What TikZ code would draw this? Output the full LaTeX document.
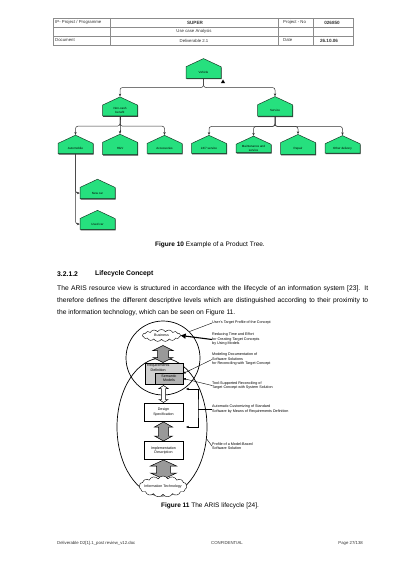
\documentclass[tikz,border=0pt]{standalone}
\usepackage{fontspec}
\setmainfont{Liberation Sans}
\usepackage{xcolor}
\usetikzlibrary{shapes.geometric, shapes.symbols, arrows.meta, positioning, shadows}
\definecolor{prodgreen}{RGB}{38,224,126}
\definecolor{prodedge}{RGB}{25,60,40}

% vertical block double arrow: centre x, centre y, length, shaft half, head half, head length, fill
\newcommand\lcdblarrow[7]{%
  \draw[fill=#7, line width=0.5pt]
    ({#1-#4},{#2-#3/2+#6}) -- ({#1-#5},{#2-#3/2+#6}) -- (#1,{#2-#3/2})
    -- ({#1+#5},{#2-#3/2+#6}) -- ({#1+#4},{#2-#3/2+#6}) -- ({#1+#4},{#2+#3/2-#6})
    -- ({#1+#5},{#2+#3/2-#6}) -- (#1,{#2+#3/2}) -- ({#1-#5},{#2+#3/2-#6})
    -- ({#1-#4},{#2+#3/2-#6}) -- cycle;}

\begin{document}
\begin{tikzpicture}[x=1pt, y=-1pt,
    prod/.style={
      signal, signal to=north, signal pointer angle=130,
      draw=prodedge, fill=prodgreen, line width=0.5pt,
      minimum width=35pt, minimum height=14pt, inner sep=0.5pt,
      font=\fontsize{3}{3.5}\selectfont, align=center,
      drop shadow={shadow xshift=0.6pt, shadow yshift=-0.9pt, fill=black!75, opacity=1}
    },
    conn/.style={-{Stealth[length=3pt, width=2.4pt]}, line width=0.5pt, rounded corners=2.5pt, black!80},
    hdr/.style={font=\fontsize{4.3}{5}\selectfont, inner sep=0, text=black!80},
    lcbox/.style={draw, fill=white, minimum width=39pt, minimum height=18pt, inner sep=0,
      font=\fontsize{3.6}{4.3}\selectfont, align=center},
    lclabel/.style={anchor=west, align=left, inner sep=0, font=\fontsize{3.7}{4.5}\selectfont},
    lccloud/.style={cloud, cloud puffs=15, cloud puff arc=120, aspect=3, draw, fill=white,
      inner sep=-2pt, font=\fontsize{3.6}{4.3}\selectfont},
    lead/.style={line width=0.4pt},
    tip/.style={-{Triangle[length=2.5pt, width=2pt]}},
  ]
  \useasboundingbox (0,0) rectangle (400,567);
  \fill[white] (0,0) rectangle (400,567);

  % page header
  \draw[black!45, line width=0.4pt] (53,18) rectangle (353,45);
  \draw[black!45, line width=0.4pt] (53,27) -- (353,27) (53,36) -- (353,36);
  \draw[black!45, line width=0.4pt] (110,18) -- (110,45) (278,18) -- (278,45) (313,18) -- (313,45);
  \node[hdr, anchor=west] (hprog) at (55,22.5) {IP- Project / Programme};
  \node[hdr, font=\fontsize{4.6}{5}\selectfont\bfseries] (hsuper) at (195,22.5) {SUPER};
  \node[hdr, anchor=west] (hpno) at (283,22.5) {Project - No};
  \node[hdr, font=\fontsize{4.6}{5}\selectfont\bfseries] (hnum) at (332,22.5) {026850};
  \node[hdr] (huse) at (194,31.5) {Use case Analysis};
  \node[hdr, anchor=west] (hdoc) at (55,40.5) {Document};
  \node[hdr] (hdel) at (194,40.5) {Deliverable 2.1};
  \node[hdr, anchor=west] (hdate) at (283,40.5) {Date};
  \node[hdr, font=\fontsize{4.6}{5}\selectfont\bfseries] (hdval) at (329,40.5) {26.10.06};

  % product tree
  \node[prod] (veh) at (203.5,72.5) {Vehicle};
  \node[regular polygon, regular polygon sides=3, fill=black, inner sep=0, minimum size=5pt] (vmark) at (223,82) {};
  \node[prod] (ncb) at (120,110.5) {Non-cash\\benefit};
  \node[prod] (svc) at (275,110.5) {Service};
  \node[prod] (auto) at (75.5,148.5) {Automobile};
  \node[prod, right=9pt of auto] (hgv) {HGV};
  \node[prod, right=9pt of hgv] (acc) {Accessories};
  \node[prod, right=9pt of acc] (s247) {24/7 service};
  \node[prod, right=9pt of s247] (maint) {Maintenance and\\service};
  \node[prod, right=9pt of maint] (rep) {Repair};
  \node[prod, right=9pt of rep] (oth) {Other delivery};
  \node[prod] (newcar) at (97.5,193) {New car};
  \node[prod] (usedcar) at (97.5,224) {Used car};

  \draw[conn] (veh.south) -- ++(0,9) -| (ncb.north);
  \draw[conn] (veh.south) -- ++(0,9) -| (svc.north);
  \foreach \c in {auto,hgv,acc}
    \draw[conn] (ncb.south) -- ++(0,10) -| (\c.north);
  \foreach \c in {s247,maint,rep,oth}
    \draw[conn] (svc.south) -- ++(0,10) -| (\c.north);
  \draw[conn] (auto.south) |- (newcar.west);
  \draw[conn] (auto.south) |- (usedcar.west);

  \node[font=\fontsize{6.5}{7}\selectfont] (cap10) at (210,245) {\textbf{Figure 10} Example of a Product Tree.};

  % section text
  \node[anchor=west, inner sep=0, font=\fontsize{6.8}{7}\selectfont\bfseries] (secnum) at (57,274) {3.2.1.2};
  \node[anchor=west, inner sep=0, font=\fontsize{6.8}{7}\selectfont\bfseries] (sectitle) at (95,274) {Lifecycle Concept};
  \node[anchor=north west, text width=311pt, align=justify, inner sep=0,
        font=\fontsize{6.7}{12}\selectfont] (body) at (57,285.5)
    {The ARIS resource view is structured in accordance with the lifecycle of an information system [23]. It\linebreak
     therefore defines the different descriptive levels which are distinguished according to their proximity to\linebreak
     the information technology, which can be seen on Figure 11.};

  % ARIS lifecycle
  \node[circle, draw, line width=0.7pt, minimum size=74pt, inner sep=0] (upper) at (163,358) {};
  \node[ellipse, draw, line width=0.7pt, minimum width=90pt, minimum height=138pt, inner sep=0] (lower) at (162,427) {};
  \node[lccloud, minimum width=38pt, minimum height=12pt] (biz) at (161.5,335.5) {Business};
  \lcdblarrow{163}{354}{17}{5.5}{10}{5}{black!40}
  \node[lcbox, fill=black!18, minimum width=38pt, minimum height=21pt] (req) at (164,373.5) {};
  \node[lcbox, fill=black!30, minimum width=28pt, minimum height=11pt, anchor=south east] (sem) at (req.south east) {Semantic\\Models};
  \node[inner sep=0, font=\fontsize{3.6}{4.3}\selectfont, align=center, anchor=north west] (reqtxt)
    at ([xshift=2pt, yshift=-1.2pt]req.north west) {Requirements\\Definition};
  \lcdblarrow{163.5}{394}{17}{2.2}{4.5}{3}{white}
  \node[lcbox] (des) at (163.5,412) {Design\\Specification};
  \lcdblarrow{163.5}{431.5}{19}{5}{9}{5}{black!40}
  \node[lcbox] (imp) at (163.5,450.5) {Implementation\\Description};
  \lcdblarrow{163.5}{469.5}{19}{7}{13}{6}{black!40}
  \node[lccloud, minimum width=42pt, minimum height=13pt] (it) at (163,486.5) {Information Technology};

  \node[lclabel] (lu) at (212,323) {User's Target Profile of the Concept};
  \node[lclabel] (lr) at (212,339.5) {Reducing Time and Effort\\for Creating Target Concepts\\by Using Models};
  \node[lclabel] (lm) at (212,359.5) {Modeling Documentation of\\Software Solutions\\for Reconciling with Target Concept};
  \node[lclabel] (lt) at (212,385.5) {Tool-Supported Reconciling of\\Target Concept with System Solution};
  \node[lclabel] (la) at (212,409) {Automatic Customizing of Standard\\Software by Means of Requirements Definition};
  \node[lclabel] (lp) at (212,446) {Profile of a Model-Based\\Software Solution};

  \draw[lead] (lu.west) -- (upper.45);
  \draw[-{Triangle[length=5pt, width=5pt]}, line width=1.1pt] (lr.west) -- (biz.east);
  \draw[lead, tip] (lm.west) -- (req.east);
  \draw[lead, tip] (lt.west) -- (sem.east);
  \coordinate (brk) at (198,409);
  \coordinate (brktop) at (186,389);
  \coordinate (brkbot) at (186,427);
  \draw[lead] (la.west) -- (brk);
  \draw[lead, {Triangle[length=2.5pt, width=2pt]}-{Triangle[length=2.5pt, width=2pt]}] (brktop) -| (brk) |- (brkbot);
  \draw[lead] (lp.west) -- (lower.-15);

  \node[font=\fontsize{6.5}{7}\selectfont] (cap11) at (210,506) {\textbf{Figure 11} The ARIS lifecycle [24].};

  % page footer
  \node[hdr, anchor=west] (fdoc) at (57,543) {Deliverable D2[1].1\_post review\_v12.doc};
  \node[hdr] (fconf) at (227,543) {CONFIDENTIAL};
  \node[hdr, anchor=east] (fpage) at (363,543) {Page 27/138};
\end{tikzpicture}
\end{document}
